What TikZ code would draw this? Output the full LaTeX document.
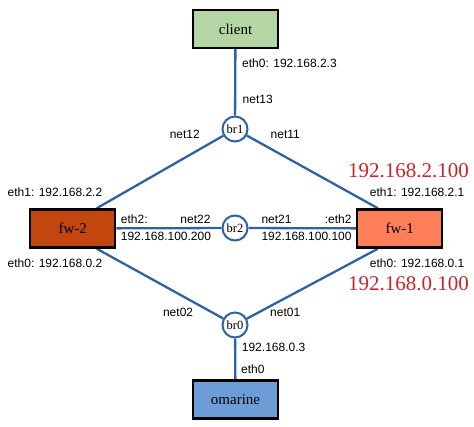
\documentclass[tikz,border=0pt]{standalone}
\usepackage{fontspec}
\setmainfont{Liberation Serif}
\newfontfamily\lblfont{Liberation Sans}
\usepackage{tikz}
\usetikzlibrary{positioning, calc, backgrounds}

\definecolor{linkblue}{HTML}{2F62A4}
\definecolor{clientgreen}{HTML}{B4D6A4}
\definecolor{fwtwo}{HTML}{C2460E}
\definecolor{fwone}{HTML}{FF7F5A}
\definecolor{omarineblue}{HTML}{6C9DD6}
\definecolor{ipred}{HTML}{C8262A}

\tikzset{
  host/.style={draw=black, line width=2.5pt, minimum width=85pt, minimum height=38pt, font=\fontsize{15}{18}\selectfont},
  bridge/.style={circle, draw=linkblue, line width=2pt, fill=white, minimum size=25pt, inner sep=0pt, font=\fontsize{12.5}{14}\selectfont},
  link/.style={linkblue, line width=2.3pt},
  lbl/.style={inner sep=0pt, font=\lblfont\fontsize{12}{14}\selectfont},
  bigip/.style={inner sep=0pt, text=ipred, font=\fontsize{21}{24}\selectfont},
}

\begin{document}
\begin{tikzpicture}[x=1pt,y=-1pt]
\useasboundingbox (0,0) rectangle (474,427);

% hosts
\node[host, fill=clientgreen] (client) at (235.5,29) {client};
\node[host, fill=fwtwo] (fw2) at (72.7,228.5) {fw-2};
\node[host, fill=fwone] (fw1) at (399.7,228.5) {fw-1};
\node[host, fill=omarineblue] (omarine) at (235.5,399.5) {omarine};

% bridges
\node[bridge] (br1) at (235,129) {br1};
\node[bridge] (br2) at (235,228) {br2};
\node[bridge] (br0) at (235,325) {br0};

\coordinate (fw2top) at ($(fw2.north)!0.55!(fw2.north east)$);
\coordinate (fw2bot) at ($(fw2.south)!0.55!(fw2.south east)$);
\coordinate (fw1top) at ($(fw1.north)!0.5!(fw1.north west)$);
\coordinate (fw1bot) at ($(fw1.south)!0.5!(fw1.south west)$);

\begin{scope}[on background layer]
\draw[link] (client) -- (br1);
\draw[link] (br1) -- (fw2top);
\draw[link] (br1) -- (fw1top);
\draw[link] (fw2) -- (br2);
\draw[link] (br2) -- (fw1);
\draw[link] (fw2bot) -- (br0);
\draw[link] (fw1bot) -- (br0);
\draw[link] (br0) -- (omarine);
\end{scope}

% labels
\node[lbl, anchor=west] (l-cl) at (242,63) {eth0: 192.168.2.3};
\node[lbl, anchor=west] (l-n13) at (242.5,99) {net13};
\node[lbl, anchor=east] (l-n12) at (200,134) {net12};
\node[lbl, anchor=west] (l-n11) at (270.5,134) {net11};
\node[bigip] (ip-top) at (408.5,171) {192.168.2.100};
\node[lbl, anchor=west] (l-f1e1) at (369.7,192) {eth1: 192.168.2.1};
\node[lbl, anchor=west] (l-f2e1) at (7.5,192) {eth1: 192.168.2.2};
\node[lbl, anchor=west] (l-f2e2) at (120.7,219) {eth2:};
\node[lbl, anchor=east] (l-n22) at (210.7,219) {net22};
\node[lbl, anchor=west] (l-f2ip) at (120.7,236.5) {192.168.100.200};
\node[lbl, anchor=west] (l-n21) at (261.3,219) {net21};
\node[lbl, anchor=east] (l-f1e2) at (351.7,219) {:eth2};
\node[lbl, anchor=west] (l-f1ip) at (261.3,236.5) {192.168.100.100};
\node[lbl, anchor=west] (l-f2e0) at (7.5,263.5) {eth0: 192.168.0.2};
\node[lbl, anchor=west] (l-f1e0) at (369.7,263.5) {eth0: 192.168.0.1};
\node[bigip] (ip-bot) at (408.5,284) {192.168.0.100};
\node[lbl, anchor=east] (l-n02) at (193.3,312.7) {net02};
\node[lbl, anchor=west] (l-n01) at (270,312.7) {net01};
\node[lbl, anchor=west] (l-omip) at (241.7,347.7) {192.168.0.3};
\node[lbl, anchor=west] (l-ome0) at (241,369.3) {eth0};
\end{tikzpicture}
\end{document}
